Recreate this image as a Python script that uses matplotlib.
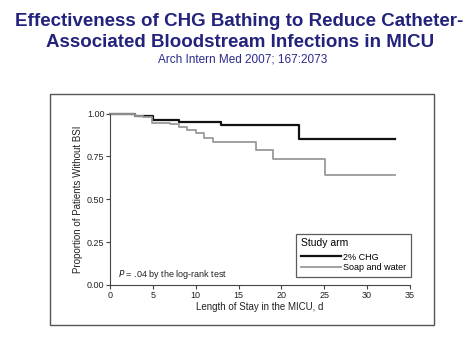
import matplotlib
matplotlib.use("Agg")
import matplotlib.pyplot as plt
from matplotlib import font_manager
from matplotlib.patches import Rectangle
from matplotlib.lines import Line2D

names = {f.name for f in font_manager.fontManager.ttflist}
narrow = "Liberation Sans Narrow" if "Liberation Sans Narrow" in names else "Liberation Sans"
plt.rcParams['font.family'] = ['Liberation Sans', 'DejaVu Sans']

# Data
chg_days = [0, 2.9, 5.0, 8.0, 13.0, 22.1, 33.2]
chg_surv = [1.0, 0.985, 0.965, 0.95, 0.934, 0.854, 0.854]
soap_days = [0, 2.9, 3.9, 4.9, 7.0, 8.0, 9.0, 10.0, 11.0, 12.0, 17.0, 19.0, 25.1, 33.2]
soap_surv = [1.0, 0.988, 0.978, 0.945, 0.937, 0.924, 0.905, 0.885, 0.86, 0.834, 0.787, 0.737, 0.643, 0.643]
x_ticks = [0, 5, 10, 15, 20, 25, 30, 35]
y_ticks = [0.0, 0.25, 0.5, 0.75, 1.0]
y_labels = ["0.00", "0.25", "0.50", "0.75", "1.00"]
series_names = ["2% CHG", "Soap and water"]

fig = plt.figure(figsize=(4.74, 3.55), dpi=100)
W, H = 474, 355

# outer frame
fig.patches.append(Rectangle((50 / W, 1 - 325 / H), 384 / W, 231 / H, transform=fig.transFigure,
                             fill=False, edgecolor='#555555', linewidth=1.0))

ax = fig.add_axes([110 / W, 1 - 285 / H, 300 / W, (285 - 113.5) / H])
ax.step(chg_days, chg_surv, where='post', color='#111111', lw=1.6, clip_on=False)
ax.step(soap_days, soap_surv, where='post', color='#9a9a9a', lw=1.3, clip_on=False)
ax.set_xlim(0, 35)
ax.set_ylim(0, 1.0)
for s in ['top', 'right']:
    ax.spines[s].set_visible(False)
for s in ['left', 'bottom']:
    ax.spines[s].set_color('#444444')
    ax.spines[s].set_linewidth(0.8)
ax.set_xticks(x_ticks)
ax.set_yticks(y_ticks)
ax.set_yticklabels(y_labels)
ax.tick_params(length=3, width=0.8, color='#444444', labelsize=6.5, pad=1, labelcolor='#222222')
for lab in ax.get_xticklabels() + ax.get_yticklabels():
    lab.set_family(narrow)
ax.set_xlabel("Length of Stay in the MICU, d", fontsize=7, family=narrow, color='#222222', labelpad=2)
ax.set_ylabel("Proportion of Patients Without BSI", fontsize=7, family=narrow, color='#222222', labelpad=3)

ax.text(0.025, 0.06, "$P$ = .04 by the log-rank test", transform=ax.transAxes, fontsize=6.5,
        family=narrow, color='#222222', va='center', ha='left')

handles = [Line2D([], [], color='#111111', lw=1.6), Line2D([], [], color='#9a9a9a', lw=1.3)]
leg = ax.legend(handles, series_names, title="Study arm", loc='lower right',
                bbox_to_anchor=(1.003, 0.047), borderaxespad=0, fontsize=6.5, title_fontsize=7.5,
                frameon=True, fancybox=False, edgecolor='#333333', borderpad=0.5,
                handlelength=4.4, handletextpad=0.3, labelspacing=0.2)
leg._legend_box.align = "left"
leg._legend_box.sep = 3
leg.get_frame().set_linewidth(0.9)
for t in leg.get_texts():
    t.set_family(narrow)
leg.get_title().set_family(narrow)

navy = '#23237d'
fig.text(239 / W, 1 - 25.5 / H, "Effectiveness of CHG Bathing to Reduce Catheter-", fontsize=13.5,
         fontweight='bold', color=navy, ha='center', va='baseline')
fig.text(240 / W, 1 - 47 / H, "Associated Bloodstream Infections in MICU", fontsize=13.5,
         fontweight='bold', color=navy, ha='center', va='baseline')
fig.text(243 / W, 1 - 63 / H, "Arch Intern Med 2007; 167:2073", fontsize=8.5,
         color='#2a2a8a', ha='center', va='baseline')

fig.savefig("out.png", dpi=100)
